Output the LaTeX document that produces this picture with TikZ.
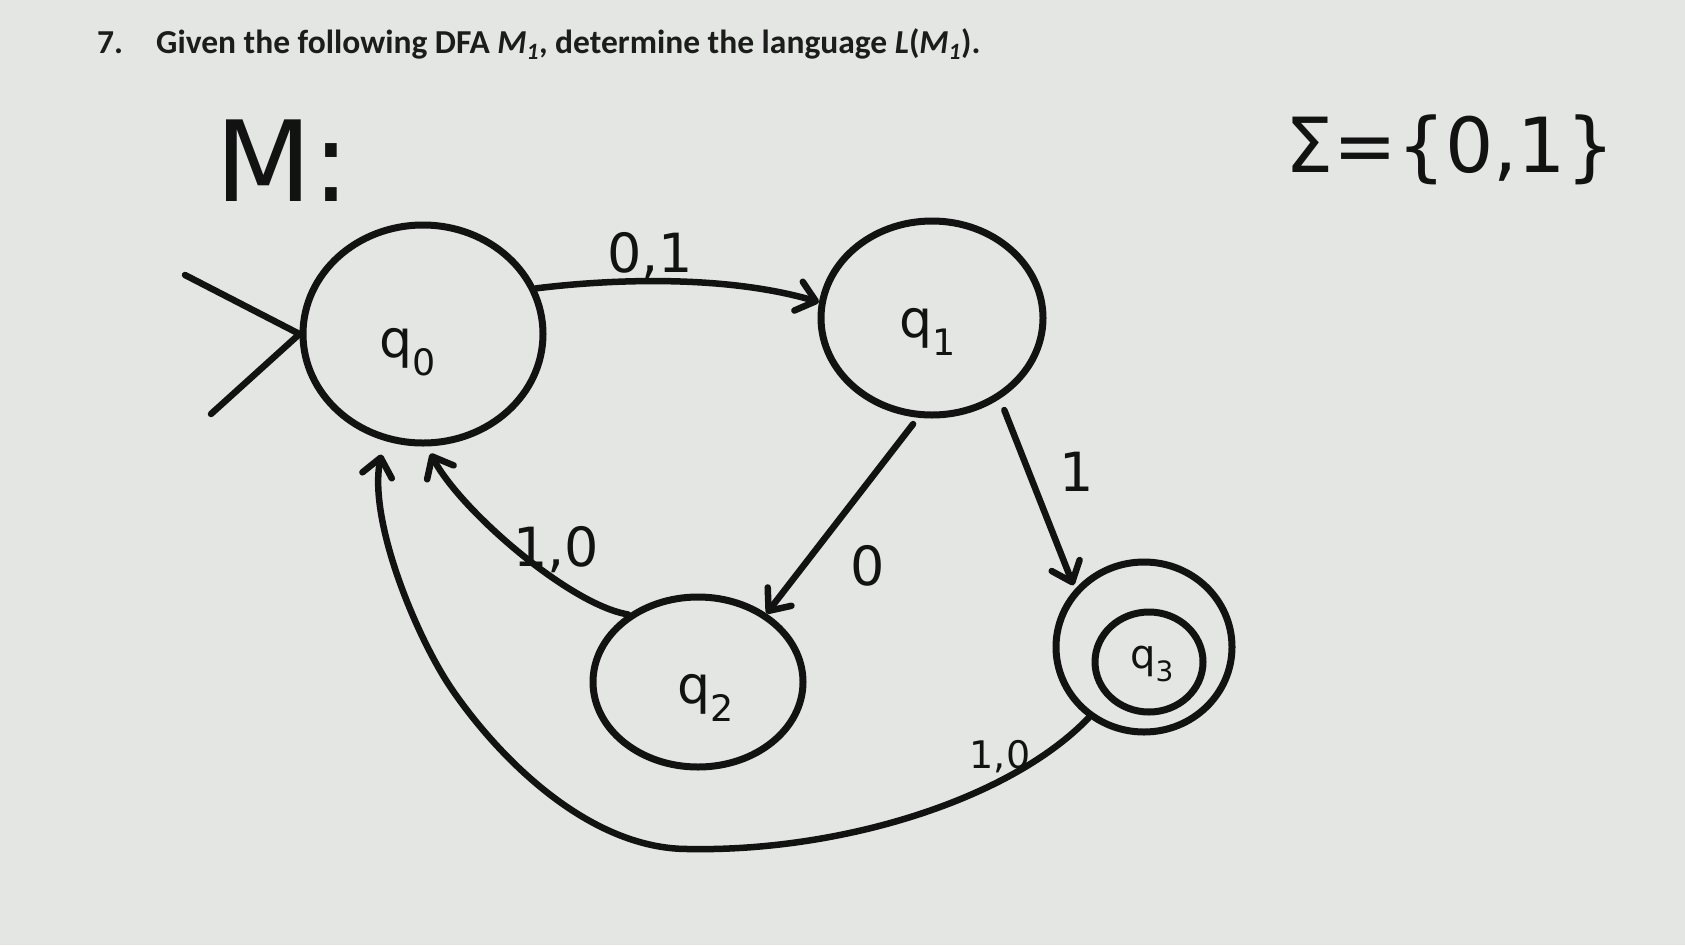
\documentclass[tikz,border=0pt]{standalone}
\usepackage{fontspec}
\setmainfont{Carlito}
\newfontfamily\hand{DejaVu Sans}
\usetikzlibrary{shapes.geometric,arrows.meta}
\definecolor{bg}{RGB}{228,230,228}
\definecolor{ink}{RGB}{18,18,18}
\definecolor{titleink}{RGB}{28,28,28}
\begin{document}
\begin{tikzpicture}[x=1pt,y=-1pt,
  state/.style={draw=ink,ellipse,line width=7pt,inner sep=0pt},
  lab/.style={font=\hand\fontsize{52}{52}\selectfont,text=ink,inner sep=0pt},
  elab/.style={font=\hand\fontsize{54}{54}\selectfont,text=ink,inner sep=0pt},
  edge/.style={draw=ink,line width=6.5pt,line cap=round,line join=round},
  arr/.style={edge,-{Straight Barb[length=18pt,width=30pt,line join=round,line cap=round]}},
  ttl/.style={anchor=base west,inner sep=0pt,text=titleink,font=\bfseries\fontsize{33.5}{33.5}\selectfont}]
\fill[bg] (0,0) rectangle (1685,945);
\useasboundingbox (0,0) rectangle (1685,945);

% title
\node[ttl] (num) at (97,53) {7.};
\node[ttl] (title) at (156,53) {Given the following DFA \textit{M\textsubscript{1}}, determine the language \textit{L}(\textit{M\textsubscript{1}}).};

% handwritten headers
\node[font=\hand\fontsize{112}{112}\selectfont,text=ink,inner sep=0pt] (mname) at (283,161) {M:};
\node[font=\hand\fontsize{76}{76}\selectfont,text=ink,inner sep=0pt] (sigma) at (1450,150) {Σ=\{0,1\}};

% states
\node[state,minimum width=240pt,minimum height=218pt] (q0) at (423,334) {};
\node[state,minimum width=222pt,minimum height=194pt] (q1) at (932,318) {};
\node[state,minimum width=210pt,minimum height=170pt] (q2) at (698,682) {};
\node[state,minimum width=176pt,minimum height=170pt] (q3) at (1144,647) {};
\node[state,minimum width=108pt,minimum height=100pt] (q3in) at (1149,662) {};

\node[lab] (l0) at (408,352) {q\textsubscript{0}};
\node[lab] (l1) at (928,332) {q\textsubscript{1}};
\node[lab] (l2) at (706,698) {q\textsubscript{2}};
\node[lab,font=\hand\fontsize{40}{40}\selectfont] (l3) at (1152,664) {q\textsubscript{3}};

% start arrow
\coordinate (s1) at (185,275);
\coordinate (s2) at (211,414);
\draw[edge] (s1) -- (q0.180) -- (s2);

% transitions
\draw[arr] (q0.22) .. controls (620,278) and (730,276) .. (q1.172);
\node[elab] (e01) at (650,256) {0,1};

\draw[arr,shorten <=8pt] (q1.262) -- (q2.45);
\node[elab] (e12) at (868,566) {0};

\draw[arr,shorten <=12pt,shorten >=4pt] (q1.310) -- (q3.140);
\node[elab] (e13) at (1077,472) {1};

\draw[arr,shorten >=8pt] (q2.136) .. controls (570,605) and (460,510) .. (q0.272);
\node[elab] (e20) at (556,550) {1,0};

\coordinate (b1) at (688,849);
\coordinate (b2) at (451,688);
\draw[arr,shorten >=14pt] (q3.232) .. controls (1010,800) and (840,852) .. (b1)
   .. controls (590,849) and (500,760) .. (b2)
   .. controls (416,636) and (368,520) .. (q0.250);
\node[elab,font=\hand\fontsize{38}{38}\selectfont] (e30) at (1000,757) {1,0};
\end{tikzpicture}
\end{document}
